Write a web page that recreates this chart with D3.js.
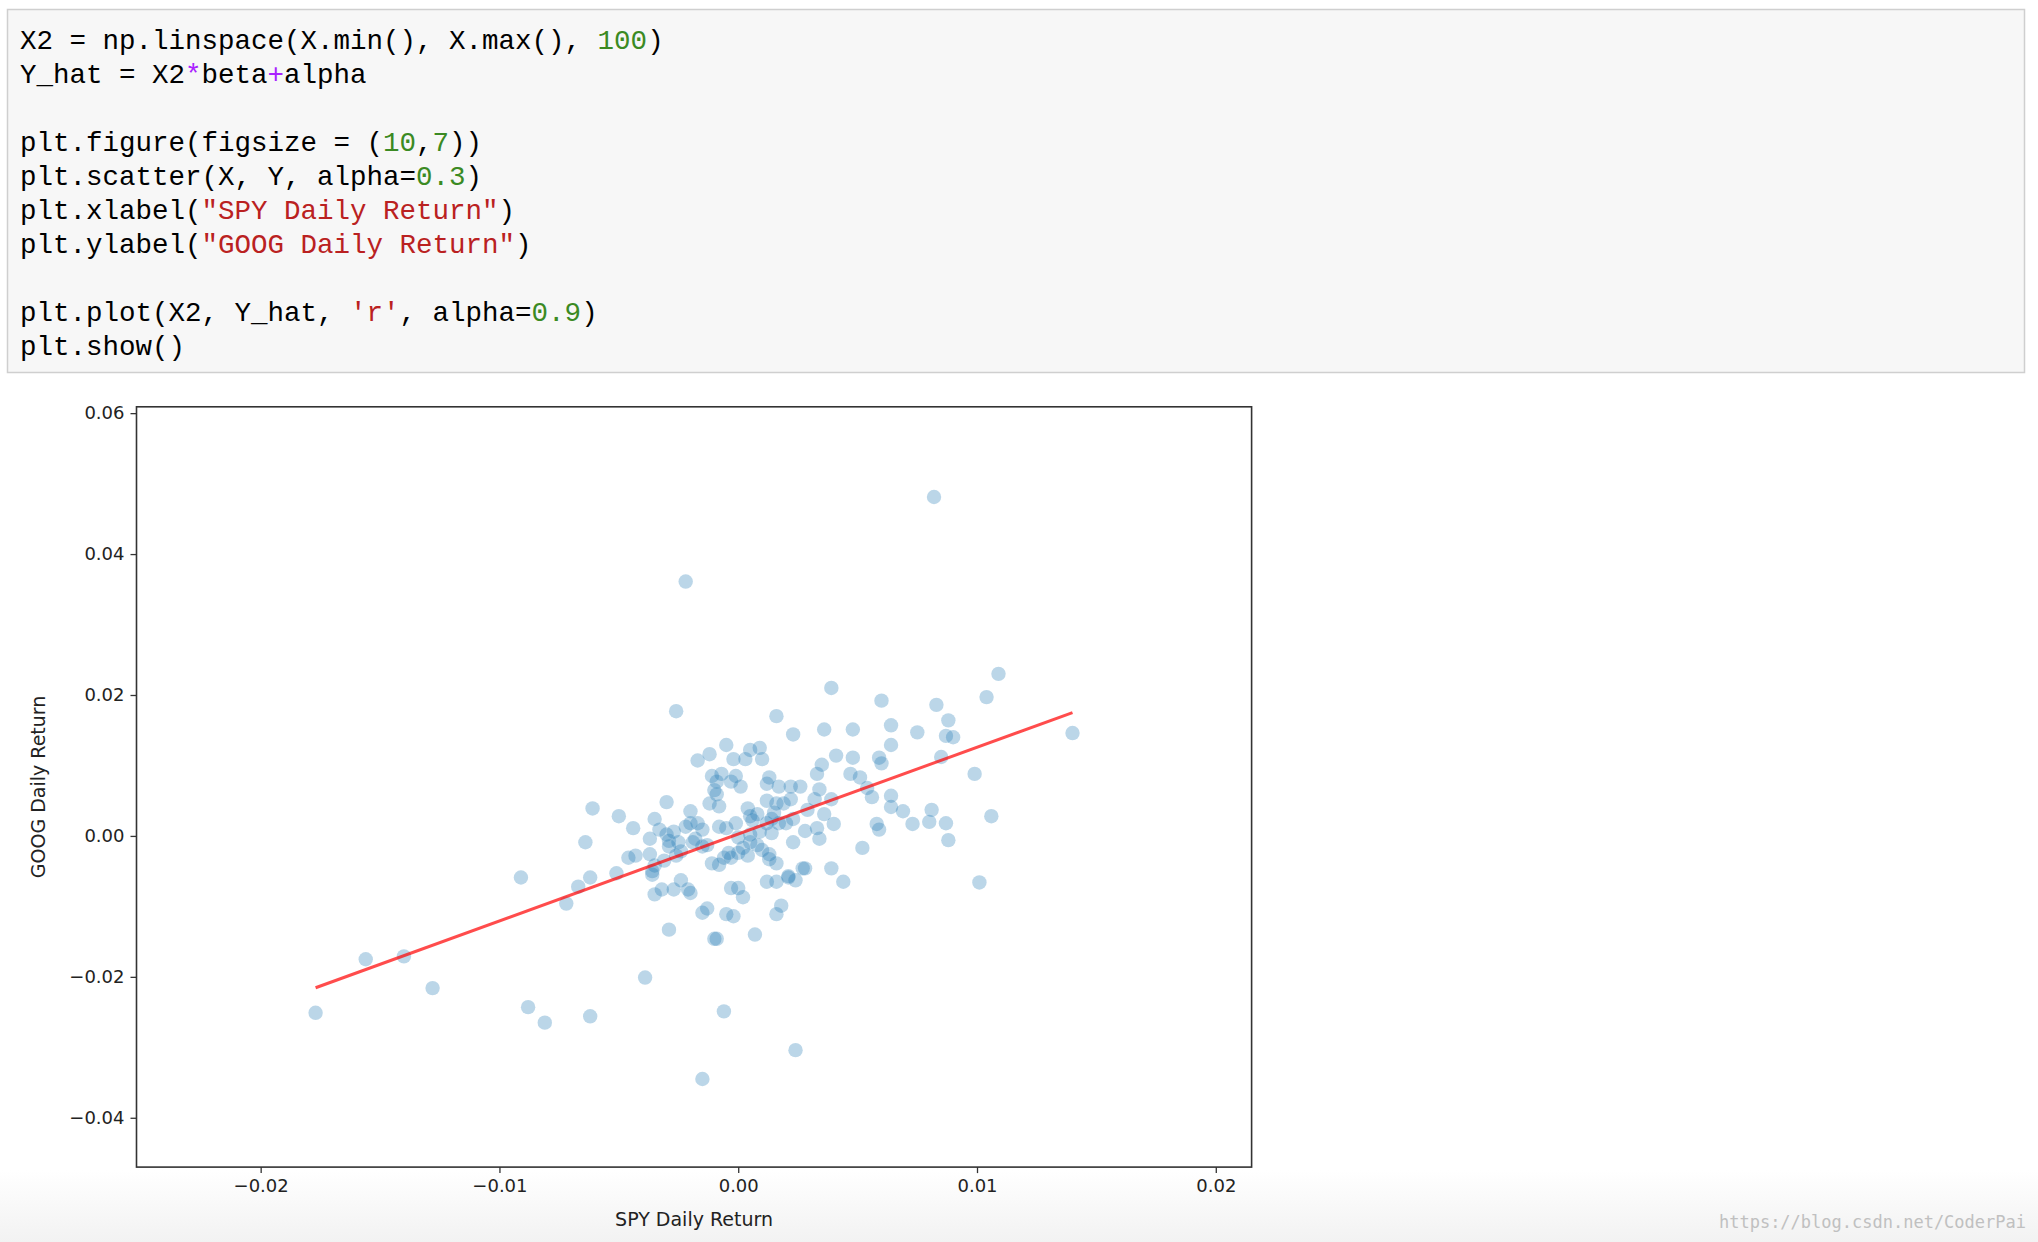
<!DOCTYPE html>
<html>
<head>
<meta charset="utf-8">
<script src="https://cdn.jsdelivr.net/npm/d3@7"></script>
<style>
  body { margin: 0; background: #fff; }
  svg { display: block; }
</style>
</head>
<body>
<svg id="chart" width="2038" height="1242"></svg>
<script>
// Code cell lines: [text, color] segments
const codeLines = [
  [['X2 = np.linspace(X.min(), X.max(), ', '#000'], ['100', '#3b8a23'], [')', '#000']],
  [['Y_hat = X2', '#000'], ['*', '#aa22ff'], ['beta', '#000'], ['+', '#aa22ff'], ['alpha', '#000']],
  [],
  [['plt.figure(figsize = (', '#000'], ['10', '#3b8a23'], [',', '#000'], ['7', '#3b8a23'], ['))', '#000']],
  [['plt.scatter(X, Y, alpha=', '#000'], ['0.3', '#3b8a23'], [')', '#000']],
  [['plt.xlabel(', '#000'], ['"SPY Daily Return"', '#ba2121'], [')', '#000']],
  [['plt.ylabel(', '#000'], ['"GOOG Daily Return"', '#ba2121'], [')', '#000']],
  [],
  [['plt.plot(X2, Y_hat, ', '#000'], ["'r'", '#ba2121'], [', alpha=', '#000'], ['0.9', '#3b8a23'], [')', '#000']],
  [['plt.show()', '#000']]
];

// SPY (x) and GOOG (y) daily returns
const spy = [-0.0177,-0.0156,-0.0140,-0.0128,-0.0091,-0.0088,-0.0081,-0.0062,-0.0061,-0.0064,-0.0067,-0.0072,-0.0062,-0.0050,-0.0044,-0.0051,-0.0046,-0.0039,-0.0022,-0.0026,-0.0029,-0.0006,-0.0015,0.0024,0.0082,0.0109,0.0104,0.0140,0.0106,0.0101,0.0099,0.0083,0.0088,0.0087,0.0090,0.0085,0.0075,0.0081,0.0080,0.0087,0.0088,0.0073,0.0064,0.0060,0.0064,0.0059,0.0060,0.0054,0.0056,0.0064,0.0069,0.0064,0.0058,0.0059,0.0052,0.0044,0.0039,0.0039,0.0048,0.0036,0.0023,0.0016,0.0041,0.0048,0.0035,0.0033,0.0047,0.0051,0.0039,0.0034,0.0032,0.0029,0.0036,0.0033,0.0028,0.0040,0.0034,0.0028,0.0021,0.0024,0.0018,0.0016,0.0016,0.0012,0.0007,-0.0002,0.0002,0.0000,-0.0003,-0.0005,-0.0010,-0.0009,-0.0013,-0.0015,-0.0020,-0.0021,-0.0024,-0.0027,-0.0032,-0.0035,-0.0036,-0.0035,-0.0037,-0.0037,-0.0033,-0.0030,-0.0029,-0.0024,-0.0026,-0.0031,-0.0035,-0.0030,-0.0020,-0.0017,-0.0020,-0.0019,-0.0015,-0.0013,-0.0018,-0.0017,-0.0012,-0.0005,-0.0011,-0.0009,-0.0007,-0.0010,-0.0009,-0.0008,-0.0012,-0.0003,-0.0001,0.0001,-0.0001,-0.0008,-0.0005,0.0000,-0.0004,-0.0006,-0.0011,-0.0008,0.0000,0.0004,0.0002,-0.0003,0.0005,0.0005,0.0005,0.0006,0.0004,0.0008,0.0009,0.0008,0.0013,0.0014,0.0012,0.0014,0.0012,0.0016,0.0015,0.0019,0.0017,0.0020,0.0013,0.0012,0.0017,0.0022,0.0026,0.0022,0.0023,0.0023,0.0005,0.0009,0.0010,0.0003,-0.0002,0.0010,0.0013,0.0016,0.0021,0.0027,-0.0015,-0.0022,-0.0027,-0.0029,-0.0043,-0.0036,-0.0025];
const goog = [-0.0251,-0.0175,-0.0171,-0.0216,-0.0059,-0.0243,-0.0265,-0.0256,0.0039,-0.0009,-0.0072,-0.0096,-0.0059,0.0028,0.0011,-0.0053,-0.0031,-0.0201,0.0361,0.0177,-0.0133,-0.0249,-0.0345,-0.0304,0.0481,0.0230,0.0197,0.0146,0.0028,-0.0066,0.0088,0.0186,0.0164,0.0142,0.0140,0.0112,0.0147,0.0037,0.0020,0.0018,-0.0006,0.0017,0.0157,0.0192,0.0129,0.0111,0.0103,0.0068,0.0055,0.0057,0.0035,0.0041,0.0017,0.0009,-0.0017,-0.0065,-0.0046,0.0210,0.0151,0.0151,0.0144,0.0170,0.0114,0.0111,0.0101,0.0088,0.0088,0.0083,0.0052,0.0066,0.0052,0.0037,0.0031,0.0011,0.0007,0.0017,-0.0004,-0.0046,-0.0057,-0.0063,-0.0099,-0.0111,-0.0065,-0.0065,-0.0140,-0.0114,-0.0087,-0.0074,-0.0074,-0.0111,-0.0146,-0.0146,-0.0103,-0.0109,-0.0081,-0.0076,-0.0063,-0.0076,-0.0076,-0.0083,-0.0050,-0.0042,-0.0026,-0.0004,0.0009,0.0002,-0.0015,-0.0022,-0.0028,-0.0035,0.0024,0.0048,0.0035,0.0018,0.0018,-0.0009,-0.0015,-0.0013,-0.0004,0.0107,0.0116,0.0129,0.0085,0.0077,0.0088,0.0065,0.0059,0.0042,0.0046,0.0077,0.0085,0.0070,0.0018,0.0013,0.0011,-0.0002,-0.0024,-0.0031,-0.0039,-0.0041,-0.0024,-0.0028,-0.0017,-0.0031,-0.0009,0.0002,0.0028,0.0022,0.0039,0.0031,0.0006,-0.0013,-0.0026,0.0004,0.0018,0.0024,0.0050,0.0046,0.0033,0.0046,0.0018,0.0018,0.0083,0.0074,0.0070,0.0070,0.0070,0.0052,0.0024,-0.0009,0.0122,0.0125,0.0109,0.0109,0.0109,-0.0020,-0.0033,-0.0039,-0.0059,-0.0046,0.0009,0.0013,0.0006,-0.0007,-0.0028,-0.0055,-0.0009];

// Fitted regression coefficients
const beta = 1.232;
const alpha = 0.00026;

const xTicks = [-0.02, -0.01, 0.00, 0.01, 0.02];
const yTicks = [-0.04, -0.02, 0.00, 0.02, 0.04, 0.06];

const svg = d3.select('#chart');

// Bottom light gray strip of the notebook page
const grad = svg.append('defs').append('linearGradient')
  .attr('id', 'fade').attr('x1', 0).attr('x2', 0).attr('y1', 0).attr('y2', 1);
grad.append('stop').attr('offset', '0%').attr('stop-color', '#fff');
grad.append('stop').attr('offset', '100%').attr('stop-color', '#f2f2f2');
svg.append('rect').attr('x', 0).attr('y', 1170).attr('width', 2038).attr('height', 72)
  .attr('fill', 'url(#fade)');

// Code cell
svg.append('rect')
  .attr('x', 7.5).attr('y', 9.5).attr('width', 2017).attr('height', 363)
  .attr('fill', '#f7f7f7').attr('stroke', '#cfcfcf').attr('stroke-width', 1.5);

const code = svg.append('g').attr('font-family', '"Liberation Mono", "DejaVu Sans Mono", monospace')
  .attr('font-size', 27.5);
codeLines.forEach((line, i) => {
  const t = code.append('text')
    .attr('x', 20).attr('y', 49 + i * 34)
    .attr('xml:space', 'preserve');
  line.forEach(([s, c]) => t.append('tspan').attr('fill', c).text(s));
});

// Plot area
const margin = { left: 136.5, right: 1251.6, top: 406.8, bottom: 1167.1 };

const x = d3.scaleLinear().domain([-0.0252, 0.0215]).range([margin.left, margin.right]);
const y = d3.scaleLinear().domain([-0.0470, 0.0609]).range([margin.bottom, margin.top]);

const data = spy.map((d, i) => ({ x: d, y: goog[i] }));

svg.append('g').selectAll('circle')
  .data(data)
  .join('circle')
  .attr('cx', (d) => x(d.x))
  .attr('cy', (d) => y(d.y))
  .attr('r', 7.2)
  .attr('fill', '#1f77b4')
  .attr('fill-opacity', 0.3);

// Regression line over the X range
const x2 = d3.extent(spy);
svg.append('line')
  .attr('x1', x(x2[0])).attr('y1', y(x2[0] * beta + alpha))
  .attr('x2', x(x2[1])).attr('y2', y(x2[1] * beta + alpha))
  .attr('stroke', '#ff0000').attr('stroke-opacity', 0.7).attr('stroke-width', 3);

// Frame
svg.append('rect')
  .attr('x', margin.left).attr('y', margin.top)
  .attr('width', margin.right - margin.left).attr('height', margin.bottom - margin.top)
  .attr('fill', 'none').attr('stroke', '#333').attr('stroke-width', 1.6);

const fmt = (d) => d3.format('.2f')(d).replace('-', '\u2212');

const xAxis = svg.append('g')
  .attr('transform', `translate(0,${margin.bottom})`)
  .call(d3.axisBottom(x).tickValues(xTicks).tickFormat(fmt).tickSize(6).tickSizeOuter(0).tickPadding(6));
const yAxis = svg.append('g')
  .attr('transform', `translate(${margin.left},0)`)
  .call(d3.axisLeft(y).tickValues(yTicks).tickFormat(fmt).tickSize(6).tickSizeOuter(0).tickPadding(6));

[xAxis, yAxis].forEach((a) => {
  a.select('.domain').remove();
  a.selectAll('line').attr('stroke', '#333').attr('stroke-width', 1.3);
  a.selectAll('text').attr('font-family', '"DejaVu Sans", sans-serif')
    .attr('font-size', 18).attr('fill', '#222');
});

svg.append('text')
  .attr('x', (margin.left + margin.right) / 2).attr('y', 1226)
  .attr('text-anchor', 'middle')
  .attr('font-family', '"DejaVu Sans", sans-serif').attr('font-size', 19).attr('fill', '#222')
  .text('SPY Daily Return');

svg.append('text')
  .attr('transform', `translate(45,${(margin.top + margin.bottom) / 2}) rotate(-90)`)
  .attr('text-anchor', 'middle')
  .attr('font-family', '"DejaVu Sans", sans-serif').attr('font-size', 19).attr('fill', '#222')
  .text('GOOG Daily Return');

// Watermark
svg.append('text')
  .attr('x', 2026).attr('y', 1228).attr('text-anchor', 'end')
  .attr('font-family', '"DejaVu Sans Mono", monospace').attr('font-size', 17).attr('fill', '#c0c0c0')
  .text('https://blog.csdn.net/CoderPai');
</script>
</body>
</html>
